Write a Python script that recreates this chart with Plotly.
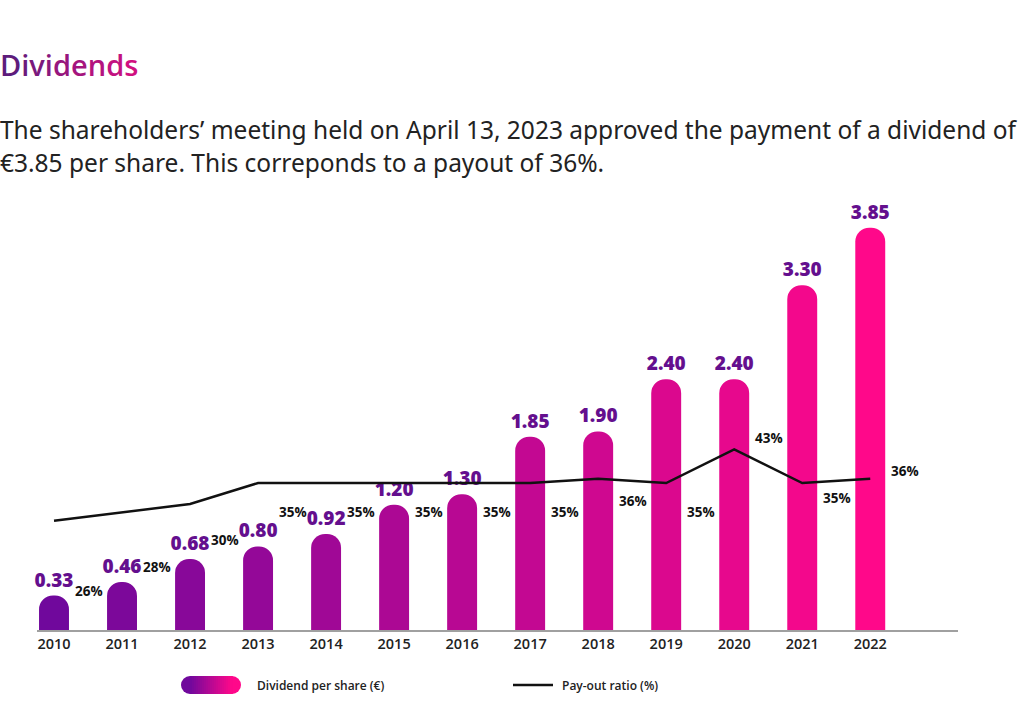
import plotly.graph_objects as go

years = [2010, 2011, 2012, 2013, 2014, 2015, 2016, 2017, 2018, 2019, 2020, 2021, 2022]
dividend = [0.33, 0.46, 0.68, 0.80, 0.92, 1.20, 1.30, 1.85, 1.90, 2.40, 2.40, 3.30, 3.85]
payout = [26, 28, 30, 35, 35, 35, 35, 35, 36, 35, 43, 35, 36]

title_text = "Dividends"
para1 = "The shareholders\u2019 meeting held on April 13, 2023 approved the payment of a dividend of"
para2 = "\u20ac3.85 per share. This correponds to a payout of 36%."
legend_bar = "Dividend per share (\u20ac)"
legend_line = "Pay-out ratio (%)"

# style / layout helpers
W, H = 1024, 721
L, R, T, B = 37, 66, 210, 91
PW, PH = W - L - R, H - T - B

def px(x):
    return (x - L) / PW

def py(y):
    return (H - B - y) / PH

def lerp(c0, c1, t):
    return "#%02x%02x%02x" % tuple(round(a + (b - a) * t) for a, b in zip(c0, c1))

C0 = (0x70, 0x08, 0x9c)
C1 = (0xff, 0x08, 0x8a)
n = len(years)
bar_colors = [lerp(C0, C1, i / (n - 1)) for i in range(n)]

label_yshift = [-70, -55, -36, -29, -29, -29, -29, -29, -22, -29, 11, -15, 8]

fig = go.Figure()
fig.add_trace(go.Bar(
    x=years, y=dividend, width=0.44,
    marker=dict(color=bar_colors, line=dict(width=0)),
    texttemplate="%{y:.2f}", textposition="outside",
    textfont=dict(family="Open Sans", size=19, color="#640f8e", weight=800),
    constraintext="none", cliponaxis=False, showlegend=False,
    hoverinfo="skip",
))
fig.add_trace(go.Scatter(
    x=years, y=payout, yaxis="y2", mode="lines",
    line=dict(color="#111111", width=2.5), showlegend=False,
    hoverinfo="skip",
))

annotations = []
for yr, p, ys in zip(years, payout, label_yshift):
    annotations.append(dict(
        x=yr, y=p, xref="x", yref="y2", text=f"{p}%", showarrow=False,
        xanchor="left", yanchor="middle", xshift=19, yshift=ys,
        font=dict(family="Open Sans", size=13.5, color="#111111", weight="bold"),
    ))

# title with gradient letters
T0 = (0x5e, 0x1c, 0x7c)
T1 = (0xd0, 0x10, 0x80)
letters = "".join(
    f"<span style='color:{lerp(T0, T1, i / (len(title_text) - 1))}'>{ch}</span>"
    for i, ch in enumerate(title_text)
)
annotations.append(dict(x=px(-2), y=py(65), xref="paper", yref="paper", text=letters,
                        showarrow=False, xanchor="left", yanchor="middle",
                        font=dict(family="Open Sans", size=29, weight=600)))
for txt, yy in [(para1, 129), (para2, 163)]:
    annotations.append(dict(x=px(-2), y=py(yy), xref="paper", yref="paper", text=txt,
                            showarrow=False, xanchor="left", yanchor="middle",
                            font=dict(family="Noto Sans", size=24.5, color="#222222")))

annotations.append(dict(x=px(255), y=py(685), xref="paper", yref="paper", text=legend_bar,
                        showarrow=False, xanchor="left", yanchor="middle",
                        font=dict(family="Open Sans", size=12, color="#222222", weight=600)))
annotations.append(dict(x=px(560), y=py(685), xref="paper", yref="paper", text=legend_line,
                        showarrow=False, xanchor="left", yanchor="middle",
                        font=dict(family="Open Sans", size=12, color="#222222", weight=600)))

shapes = []
# legend pill with gradient
cy, rr = 685, 9
x0, x1 = 181, 241
shapes.append(dict(type="circle", xref="paper", yref="paper", x0=px(x0), x1=px(x0 + 2 * rr),
                   y0=py(cy + rr), y1=py(cy - rr), fillcolor=lerp(C0, C1, 0), line=dict(width=0)))
shapes.append(dict(type="circle", xref="paper", yref="paper", x0=px(x1 - 2 * rr), x1=px(x1),
                   y0=py(cy + rr), y1=py(cy - rr), fillcolor=lerp(C0, C1, 1), line=dict(width=0)))
steps = 21
sx0, sx1 = x0 + rr, x1 - rr
for i in range(steps):
    a = sx0 + (sx1 - sx0) * i / steps
    b = sx0 + (sx1 - sx0) * (i + 1) / steps + 0.6
    shapes.append(dict(type="rect", xref="paper", yref="paper", x0=px(a), x1=px(b),
                       y0=py(cy + rr), y1=py(cy - rr), fillcolor=lerp(C0, C1, (i + 0.5) / steps),
                       line=dict(width=0)))
shapes.append(dict(type="line", xref="paper", yref="paper", x0=px(513), x1=px(553),
                   y0=py(685), y1=py(685), line=dict(color="#111111", width=2.5)))

fig.update_layout(
    width=W, height=H,
    margin=dict(l=L, r=R, t=T, b=B),
    paper_bgcolor="white", plot_bgcolor="white",
    barcornerradius=15,
    xaxis=dict(range=[2009.75, 2023.29], tickvals=years, ticktext=[str(y) for y in years],
               showgrid=False, zeroline=False, showline=True, linecolor="#a0a0a0", linewidth=1.5,
               ticks="", tickfont=dict(family="Open Sans", size=14.5, color="#222222", weight=600),
               fixedrange=True),
    yaxis=dict(range=[0, 4.02], visible=False, fixedrange=True),
    yaxis2=dict(range=[0, 100], overlaying="y", visible=False, fixedrange=True),
    annotations=annotations, shapes=shapes, showlegend=False,
)

fig.write_html("out.html", config={"displayModeBar": False})
